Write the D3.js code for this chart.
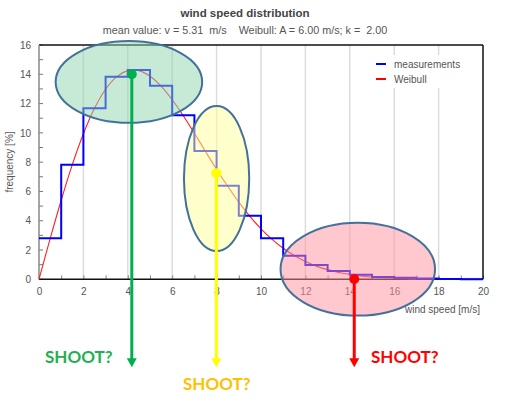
<!DOCTYPE html>
<html><head><meta charset="utf-8">
<script src="https://cdn.jsdelivr.net/npm/d3@7"></script>
<style>
body{margin:0;background:#fff;}
svg{display:block;font-family:"Liberation Sans",Arial,sans-serif;}
</style></head>
<body><svg id="c" width="521" height="404"></svg>
<script>
// ---- data ----
const binStarts = [0,1,2,3,4,5,6,7,8,9,10,11,12,13,14,15,16,17,18,19,20];
const measured  = [2.8,7.82,11.68,13.84,14.29,13.22,11.21,8.76,6.38,4.34,2.8,1.61,0.98,0.56,0.31,0.16,0.1,0.05,0.02,0.01,0.01];
const weibullV  = [0,0.5,1,1.5,2,2.5,3,3.5,4,4.5,5,5.5,6,6.5,7,7.5,8,8.5,9,9.5,10,10.5,11,11.5,12,12.5,13,13.5,14,14.5,15,15.5,16,16.5,17];
const weibullF  = [0,2.76,5.40,7.83,9.94,11.68,12.98,13.84,14.25,14.25,13.87,13.19,12.26,11.17,9.97,8.73,7.51,6.35,5.27,4.30,3.45,2.73,2.12,1.62,1.22,0.90,0.66,0.47,0.34,0.23,0.16,0.11,0.07,0.05,0.03];
const xTicks = [0,2,4,6,8,10,12,14,16,18,20];
const yTicks = [0,2,4,6,8,10,12,14,16];
const titleText = "wind speed distribution";
const subtitleText = "mean value: v = 5.31  m/s    Weibull: A = 6.00 m/s; k =  2.00";
const seriesNames = ["measurements","Weibull"];
// annotations (data units)
const markLabels = ["SHOOT?","SHOOT?","SHOOT?"];
const markX   = [4.18, 7.99, 14.2];
const markY   = [14.0, 7.24, 0.02];
const ellCx   = [4.05, 8.0, 14.36];
const ellCy   = [13.48, 6.88, 0.69];
const ellRx   = [3.3, 1.47, 3.48];
const ellRy   = [2.79, 4.95, 3.17];

// ---- styles ----
const markColors = ["#00b050","#ffff00","#ff0000"];
const textColors = ["#1fb050","#ffc000","#ff0000"];
const ellFills   = ["#8fd5ae","#ffff99","#ff8f9d"];

const svg = d3.select("#c");
const x = d3.scaleLinear().domain([0,20]).range([39,483]);
const y = d3.scaleLinear().domain([0,16]).range([279.3,45]);

// gridlines
svg.append("g").selectAll("line").data(xTicks.filter(d=>d>0&&d<20)).join("line")
  .attr("x1",d=>x(d)).attr("x2",d=>x(d)).attr("y1",y(16)).attr("y2",y(0))
  .attr("stroke","#dcdcdc").attr("stroke-width",1.5);

// legend background (covers grid)
svg.append("rect").attr("x",366).attr("y",55).attr("width",106).attr("height",33).attr("fill","#fff");

// minor ticks
const minor = d3.range(0,21,1);
svg.append("g").selectAll("line").data(minor).join("line")
  .attr("x1",d=>x(d)+0.5).attr("x2",d=>x(d)+0.5).attr("y1",y(0)).attr("y2",y(0)-4)
  .attr("stroke","#888").attr("stroke-width",1);
svg.append("g").selectAll("line").data(d3.range(0,17,1)).join("line")
  .attr("x1",x(0)).attr("x2",x(0)+4).attr("y1",d=>y(d)).attr("y2",d=>y(d))
  .attr("stroke","#777").attr("stroke-width",1);

// borders
svg.append("line").attr("x1",x(0)).attr("x2",x(20)).attr("y1",y(16)).attr("y2",y(16)).attr("stroke","#111").attr("stroke-width",1.5);
svg.append("line").attr("x1",x(20)).attr("x2",x(20)).attr("y1",y(16)).attr("y2",y(0)).attr("stroke","#111").attr("stroke-width",1.5);
svg.append("line").attr("x1",x(0)).attr("x2",x(0)).attr("y1",y(16)).attr("y2",y(0)).attr("stroke","#888").attr("stroke-width",1.5);

// axes tick labels
const xa = svg.append("g").attr("transform",`translate(0,${y(0)})`).call(d3.axisBottom(x).tickValues(xTicks).tickSize(0).tickPadding(9).tickFormat(d3.format("d")));
xa.select(".domain").remove();
xa.selectAll("text").attr("font-size",10).attr("fill","#555").attr("font-family","Liberation Sans, Arial, sans-serif");
const ya = svg.append("g").attr("transform",`translate(${x(0)},0)`).call(d3.axisLeft(y).tickValues(yTicks).tickSize(0).tickPadding(8).tickFormat(d3.format("d")));
ya.select(".domain").remove();
ya.selectAll("text").attr("font-size",10).attr("fill","#555").attr("font-family","Liberation Sans, Arial, sans-serif");

// bottom axis line
svg.append("line").attr("x1",x(0)).attr("x2",x(20)).attr("y1",y(0)).attr("y2",y(0)).attr("stroke","#111").attr("stroke-width",1.5);

// series
svg.append("path").datum(weibullV.map((v,i)=>[v,weibullF[i]]))
  .attr("d",d3.line().x(d=>x(d[0])).y(d=>y(d[1])).curve(d3.curveCatmullRom))
  .attr("fill","none").attr("stroke","#ff2020").attr("stroke-width",1.1);
svg.append("path").datum(binStarts.map((b,i)=>[b,measured[i]]))
  .attr("d",d3.line().x(d=>x(d[0])).y(d=>y(d[1])).curve(d3.curveStepAfter))
  .attr("fill","none").attr("stroke","#0000ff").attr("stroke-width",2);

// legend
const leg = svg.append("g");
[["#0000ff",64],["#ff0000",79]].forEach((c,i)=>{
  leg.append("line").attr("x1",376).attr("x2",386).attr("y1",c[1]).attr("y2",c[1]).attr("stroke",c[0]).attr("stroke-width",2);
  leg.append("text").attr("x",394).attr("y",c[1]+3.5).attr("font-size",10).attr("fill","#555").text(seriesNames[i]);
});

// titles
svg.append("text").attr("x",245).attr("y",17).attr("text-anchor","middle").attr("font-size",11.5).attr("font-weight","bold").attr("fill","#444").text(titleText);
svg.append("text").attr("x",245).attr("y",34).attr("text-anchor","middle").attr("font-size",10.8).attr("fill","#555").style("white-space","pre").text(subtitleText);
svg.append("text").attr("transform",`translate(13,162) rotate(-90)`).attr("text-anchor","middle").attr("font-size",10).attr("fill","#555").text("frequency [%]");
svg.append("text").attr("x",480).attr("y",313).attr("text-anchor","end").attr("font-size",10).attr("fill","#555").text("wind speed [m/s]");

// ellipses
svg.append("g").selectAll("ellipse").data(ellCx).join("ellipse")
  .attr("cx",(d,i)=>x(d)).attr("cy",(d,i)=>y(ellCy[i]))
  .attr("rx",(d,i)=>x(ellRx[i])-x(0)).attr("ry",(d,i)=>y(0)-y(ellRy[i]))
  .attr("fill",(d,i)=>ellFills[i]).attr("fill-opacity",0.5)
  .attr("stroke","#41719c").attr("stroke-width",2);

// arrows & dots
const arrowEnd = -6;
markX.forEach((mx,i)=>{
  const px = x(mx), py = y(markY[i]), ey = y(arrowEnd);
  svg.append("line").attr("x1",px).attr("x2",px).attr("y1",py).attr("y2",ey-8)
    .attr("stroke",markColors[i]).attr("stroke-width",3);
  svg.append("path").attr("d",`M${px-5},${ey-9}L${px+5},${ey-9}L${px},${ey}Z`).attr("fill",markColors[i]);
  svg.append("circle").attr("cx",px).attr("cy",py).attr("r",5).attr("fill",markColors[i]);
});
const textPos = [[45,363],[183,390],[371,363]];
markLabels.forEach((t,i)=>{
  svg.append("text").attr("x",textPos[i][0]).attr("y",textPos[i][1])
    .attr("font-family","Lato, 'Open Sans', sans-serif").attr("font-weight","bold").attr("font-size",17)
    .attr("fill",textColors[i]).text(t);
});
</script></body></html>
